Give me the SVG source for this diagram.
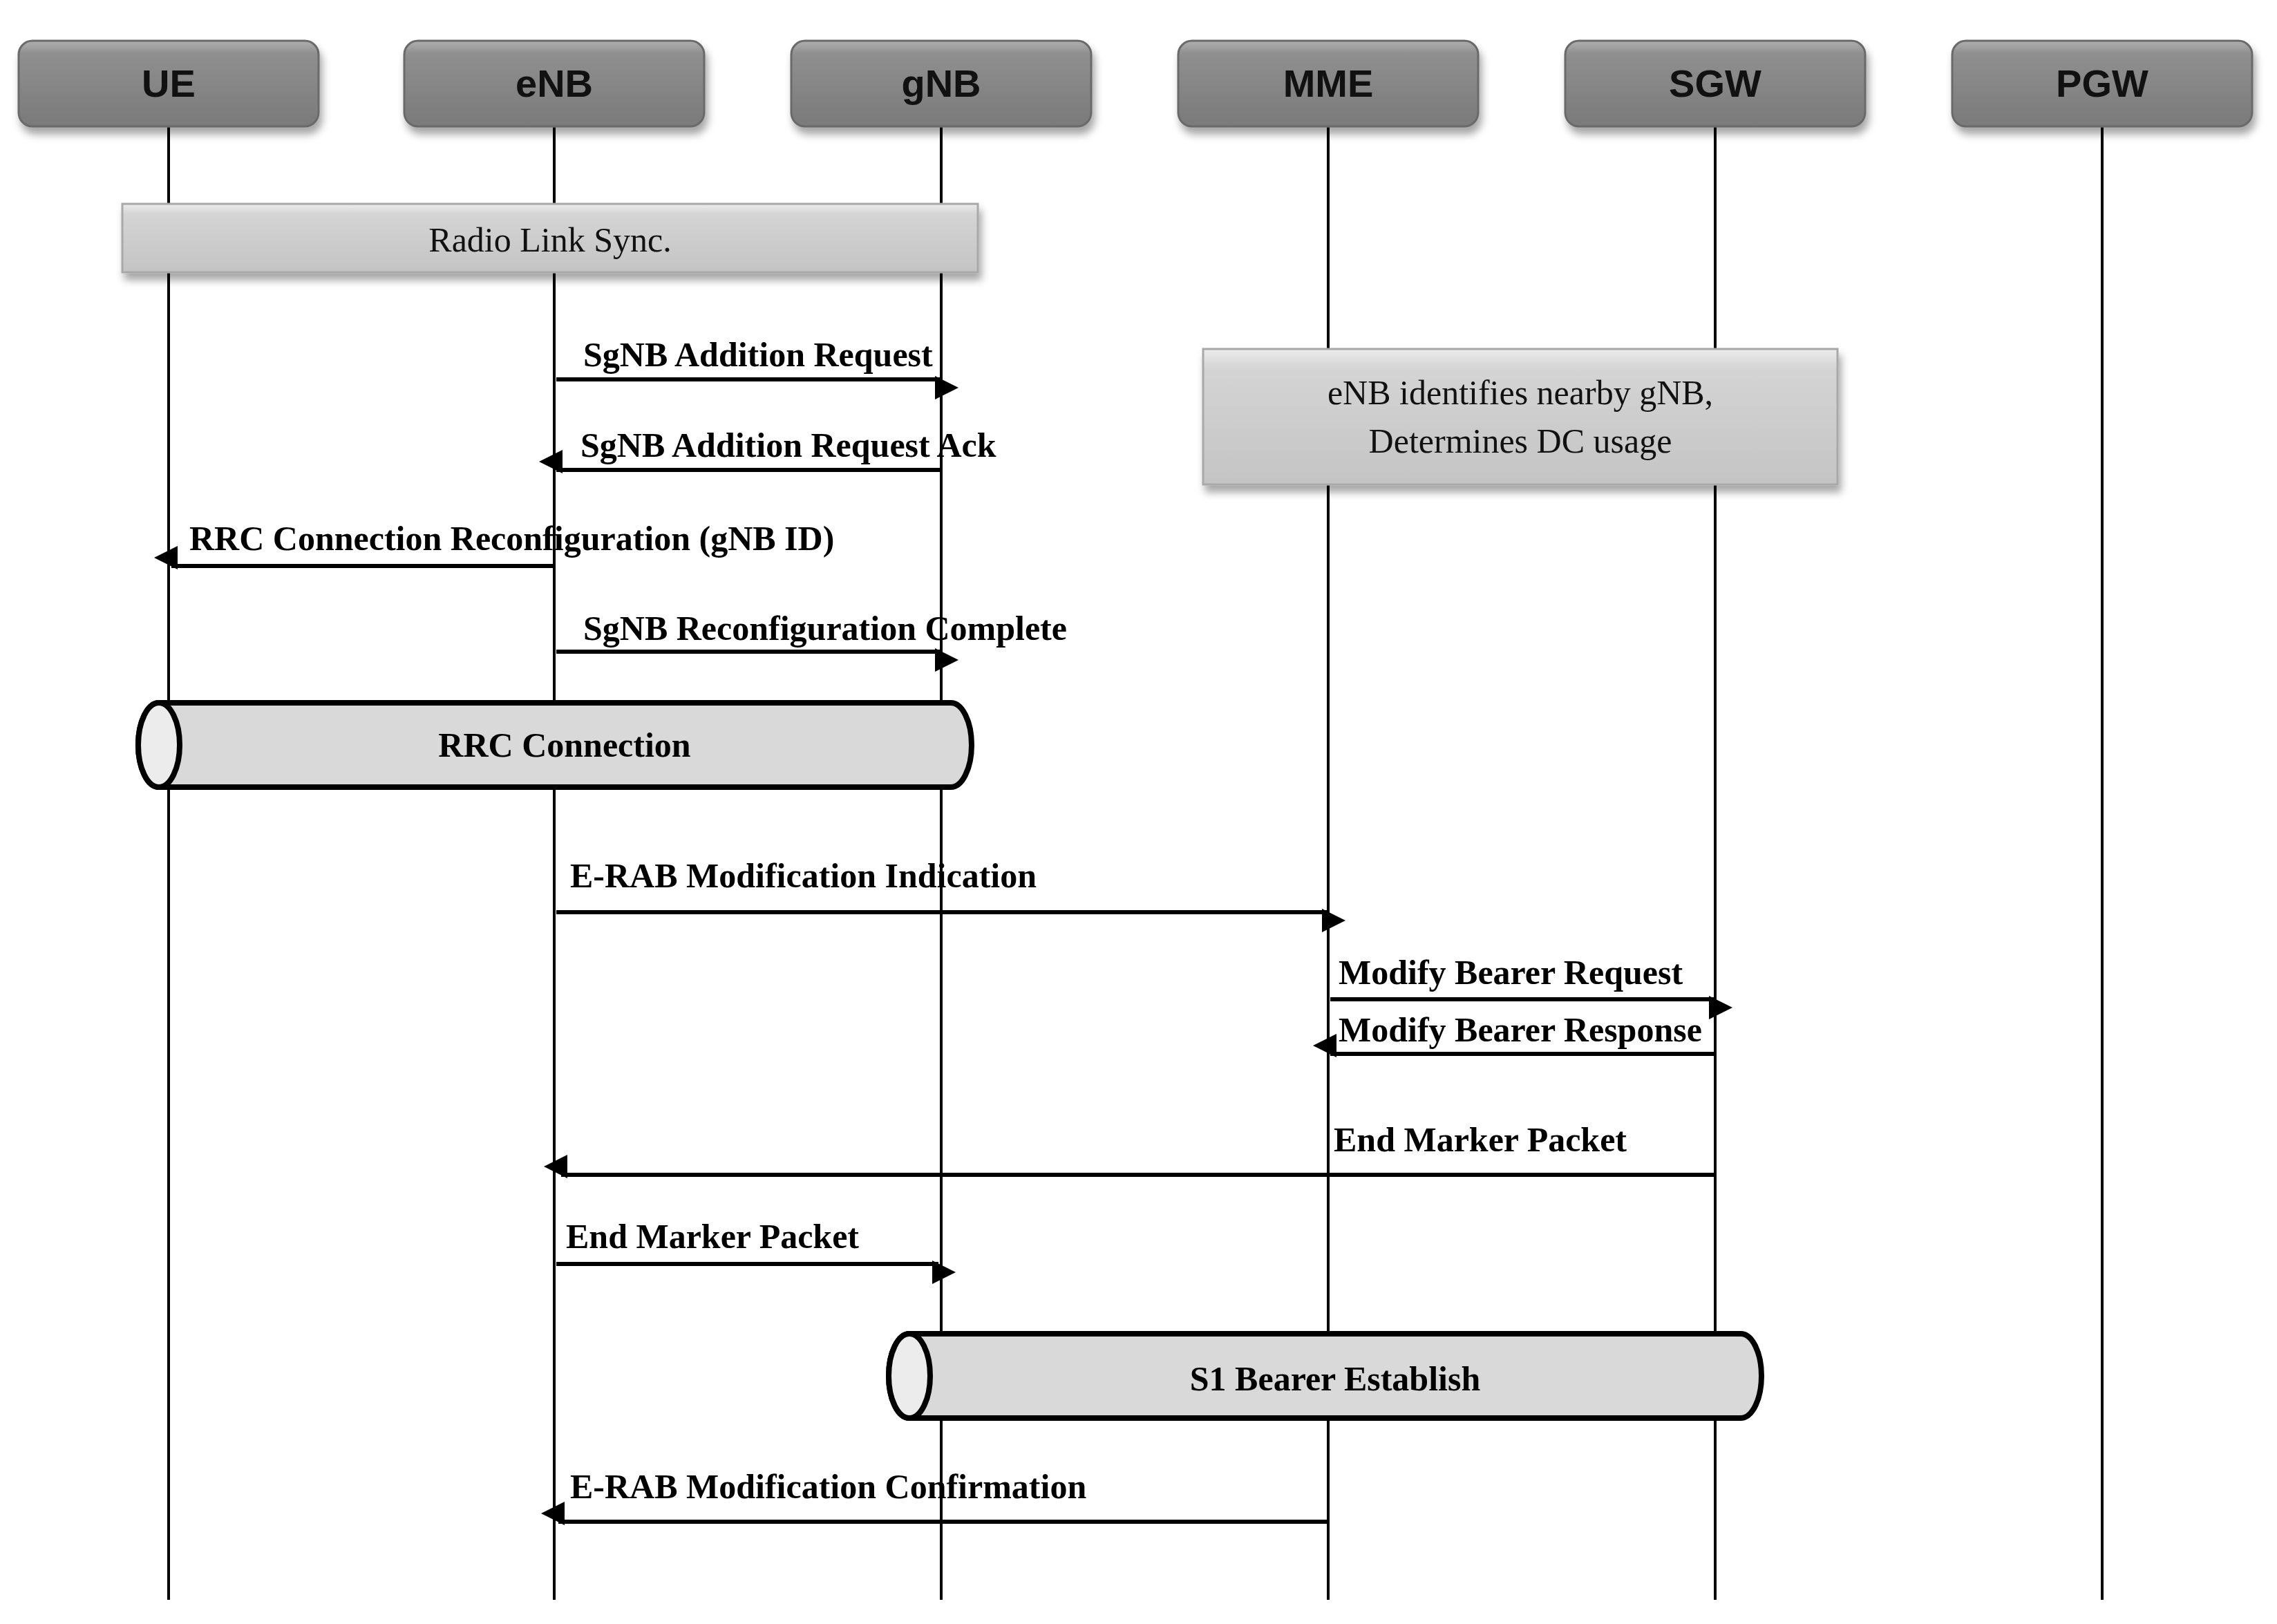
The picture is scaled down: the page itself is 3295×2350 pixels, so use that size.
<svg xmlns="http://www.w3.org/2000/svg" width="3295" height="2350" viewBox="0 0 3295 2350">
<defs>
<linearGradient id="hg" x1="0" y1="0" x2="0" y2="1"><stop offset="0" stop-color="#b0b0b0"/><stop offset="0.15" stop-color="#8f8f8f"/><stop offset="1" stop-color="#7a7a7a"/></linearGradient>
<linearGradient id="bg" x1="0" y1="0" x2="0" y2="1"><stop offset="0" stop-color="#ececec"/><stop offset="0.15" stop-color="#d4d4d4"/><stop offset="1" stop-color="#c4c4c4"/></linearGradient>
<filter id="sh" x="-10%" y="-20%" width="120%" height="150%"><feDropShadow dx="4" dy="10" stdDeviation="6" flood-color="#000" flood-opacity="0.35"/></filter>
<marker id="ah" markerWidth="10" markerHeight="10" refX="9" refY="5" orient="auto" markerUnits="userSpaceOnUse" viewBox="0 0 10 10" style="overflow:visible"><path d="M0,0 L10,5 L0,10 Z" fill="#000" transform="scale(3.4)" /></marker>
</defs>
<style>
.hd{fill:url(#hg);stroke:#6a6a6a;stroke-width:3;filter:url(#sh)}
.ht{font-family:"Liberation Sans",Arial,sans-serif;font-weight:bold;font-size:56px;fill:#111;text-anchor:middle}
.ll{stroke:#000;stroke-width:4}
.ms{stroke:#000;stroke-width:6;fill:none}
.ml{font-family:"Liberation Serif","Times New Roman",serif;font-weight:bold;font-size:50px;fill:#000}
.nt{font-family:"Liberation Serif","Times New Roman",serif;font-size:50px;fill:#111;text-anchor:middle}
.bx{fill:url(#bg);stroke:#a8a8a8;stroke-width:3;filter:url(#sh)}
.cy{fill:#d9d9d9;stroke:#000;stroke-width:8}
.ce{fill:#ececec;stroke:#000;stroke-width:8}
</style>
<rect width="3295" height="2350" fill="#fff"/>
<g id="lifelines">
<line class="ll" x1="244" y1="183" x2="244" y2="2315"/>
<line class="ll" x1="802" y1="183" x2="802" y2="2315"/>
<line class="ll" x1="1362" y1="183" x2="1362" y2="2315"/>
<line class="ll" x1="1922" y1="183" x2="1922" y2="2315"/>
<line class="ll" x1="2482" y1="183" x2="2482" y2="2315"/>
<line class="ll" x1="3042" y1="183" x2="3042" y2="2315"/>
</g>
<g id="UE"><rect class="hd" x="27" y="59" width="434" height="124" rx="20"/><text class="ht" x="244" y="140">UE</text></g>
<g id="eNB"><rect class="hd" x="585" y="59" width="434" height="124" rx="20"/><text class="ht" x="802" y="140">eNB</text></g>
<g id="gNB"><rect class="hd" x="1145" y="59" width="434" height="124" rx="20"/><text class="ht" x="1362" y="140">gNB</text></g>
<g id="MME"><rect class="hd" x="1705" y="59" width="434" height="124" rx="20"/><text class="ht" x="1922" y="140">MME</text></g>
<g id="SGW"><rect class="hd" x="2265" y="59" width="434" height="124" rx="20"/><text class="ht" x="2482" y="140">SGW</text></g>
<g id="PGW"><rect class="hd" x="2825" y="59" width="434" height="124" rx="20"/><text class="ht" x="3042" y="140">PGW</text></g>
<g id="radio-link-sync"><rect class="bx" x="177" y="295" width="1238" height="99"/><text class="nt" x="796" y="364">Radio Link Sync.</text></g>
<g id="enb-identifies"><rect class="bx" x="1741" y="505" width="918" height="196"/><text class="nt" x="2200" y="585">eNB identifies nearby  gNB,</text><text class="nt" x="2200" y="655">Determines DC usage</text></g>
<g id="rrc-connection">
<path class="cy" d="M230,1017 L1376,1017 A30,61 0 0 1 1376,1139 L230,1139 A30,61 0 0 1 230,1017 Z"/>
<ellipse class="ce" cx="230" cy="1078" rx="30" ry="61"/>
<text class="ml" x="817" y="1095" text-anchor="middle">RRC Connection</text>
</g>
<g id="s1-bearer">
<path class="cy" d="M1316,1930 L2519,1930 A30,61 0 0 1 2519,2052 L1316,2052 A30,61 0 0 1 1316,1930 Z"/>
<ellipse class="ce" cx="1316" cy="1991" rx="30" ry="61"/>
<text class="ml" x="1932" y="2012" text-anchor="middle">S1 Bearer Establish</text>
</g>
<g id="connectors">
<line class="ms" x1="805" y1="549" x2="1362" y2="549" marker-end="url(#ah)"/>
<line class="ms" x1="1362" y1="680" x2="805" y2="680" marker-end="url(#ah)"/>
<line class="ms" x1="802" y1="819" x2="248" y2="819" marker-end="url(#ah)"/>
<line class="ms" x1="805" y1="943" x2="1362" y2="943" marker-end="url(#ah)"/>
<line class="ms" x1="805" y1="1320" x2="1922" y2="1320" marker-end="url(#ah)"/>
<line class="ms" x1="1925" y1="1446" x2="2482" y2="1446" marker-end="url(#ah)"/>
<line class="ms" x1="2482" y1="1525" x2="1925" y2="1525" marker-end="url(#ah)"/>
<line class="ms" x1="2482" y1="1700" x2="812" y2="1700" marker-end="url(#ah)"/>
<line class="ms" x1="805" y1="1829" x2="1358" y2="1829" marker-end="url(#ah)"/>
<line class="ms" x1="1922" y1="2202" x2="808" y2="2202" marker-end="url(#ah)"/>
</g>
<g id="labels">
<text class="ml" x="844" y="530">SgNB Addition  Request</text>
<text class="ml" x="840" y="661">SgNB Addition  Request Ack</text>
<text class="ml" x="274" y="796">RRC  Connection Reconfiguration (gNB ID)</text>
<text class="ml" x="844" y="926">SgNB Reconfiguration  Complete</text>
<text class="ml" x="825" y="1284">E-RAB Modification  Indication</text>
<text class="ml" x="1937" y="1424">Modify  Bearer Request</text>
<text class="ml" x="1937" y="1507">Modify  Bearer Response</text>
<text class="ml" x="1930" y="1666">End Marker  Packet</text>
<text class="ml" x="819" y="1806">End Marker  Packet</text>
<text class="ml" x="825" y="2168">E-RAB Modification  Confirmation</text>
</g>
</svg>
